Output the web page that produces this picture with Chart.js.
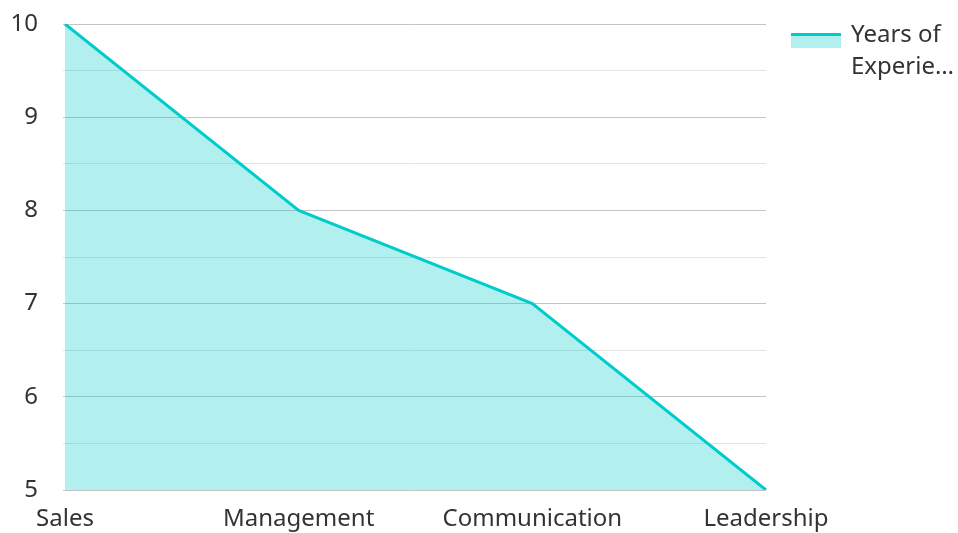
<!DOCTYPE html>
<html><head><meta charset="utf-8">
<script src="https://cdn.jsdelivr.net/npm/chart.js@4/dist/chart.umd.min.js"></script>
<style>html,body{margin:0;padding:0;background:#fff;}#wrap{width:958px;height:533px;position:relative;}</style>
</head><body><div id="wrap"><canvas id="c" width="958" height="533"></canvas></div>
<script>
const categories = ["Sales", "Management", "Communication", "Leadership"];
const seriesName = "Years of Experience";
const values = [10, 8, 7, 5];
const yMin = 5, yMax = 10, yStep = 0.5;

const FONT = "'Noto Sans', 'Open Sans', sans-serif";
const LINE = '#00CCCC';
const FILL = 'rgba(0,204,204,0.3)';

const legendPlugin = {
  id: 'customLegend',
  afterDraw(chart) {
    const ctx = chart.ctx;
    ctx.save();
    ctx.fillStyle = FILL;
    ctx.fillRect(791, 35, 50, 13);
    ctx.fillStyle = LINE;
    ctx.fillRect(791, 33, 50, 3);
    ctx.fillStyle = '#333333';
    ctx.font = "24px " + FONT;
    ctx.textBaseline = 'middle';
    ctx.textAlign = 'left';
    ctx.fillText('Years of', 851, 35);
    ctx.fillText('Experie\u2026', 851, 67);
    ctx.restore();
  }
};

new Chart(document.getElementById('c'), {
  type: 'line',
  data: {
    labels: categories,
    datasets: [{
      label: seriesName,
      data: values,
      borderColor: LINE,
      backgroundColor: FILL,
      borderWidth: 3,
      fill: 'start',
      tension: 0,
      pointRadius: 0,
      pointHoverRadius: 0
    }]
  },
  options: {
    responsive: false,
    animation: false,
    layout: { padding: { left: 0, right: 192, top: 24, bottom: 0 } },
    plugins: { legend: { display: false }, tooltip: { enabled: false } },
    scales: {
      x: {
        grid: { display: false },
        border: { display: false },
        ticks: { color: '#333333', font: { family: FONT, size: 24 }, padding: 7, maxRotation: 0, autoSkip: false },
        afterFit(s) { s.height = 43; s.paddingLeft = 0; s.paddingRight = 0; }
      },
      y: {
        min: yMin, max: yMax,
        border: { display: false },
        grid: {
          color: c => (c.tick && Number.isInteger(c.tick.value)) ? '#c4c4c4' : '#e4e4e4',
          lineWidth: 1,
          tickLength: 2
        },
        ticks: {
          stepSize: yStep,
          autoSkip: false,
          color: '#333333',
          font: { family: FONT, size: 24 },
          padding: 25,
          callback: v => Number.isInteger(v) ? String(v) : ''
        },
        afterFit(s) { s.width = 65; s.paddingTop = 0; s.paddingBottom = 0; }
      }
    }
  },
  plugins: [legendPlugin]
});
</script></body></html>
